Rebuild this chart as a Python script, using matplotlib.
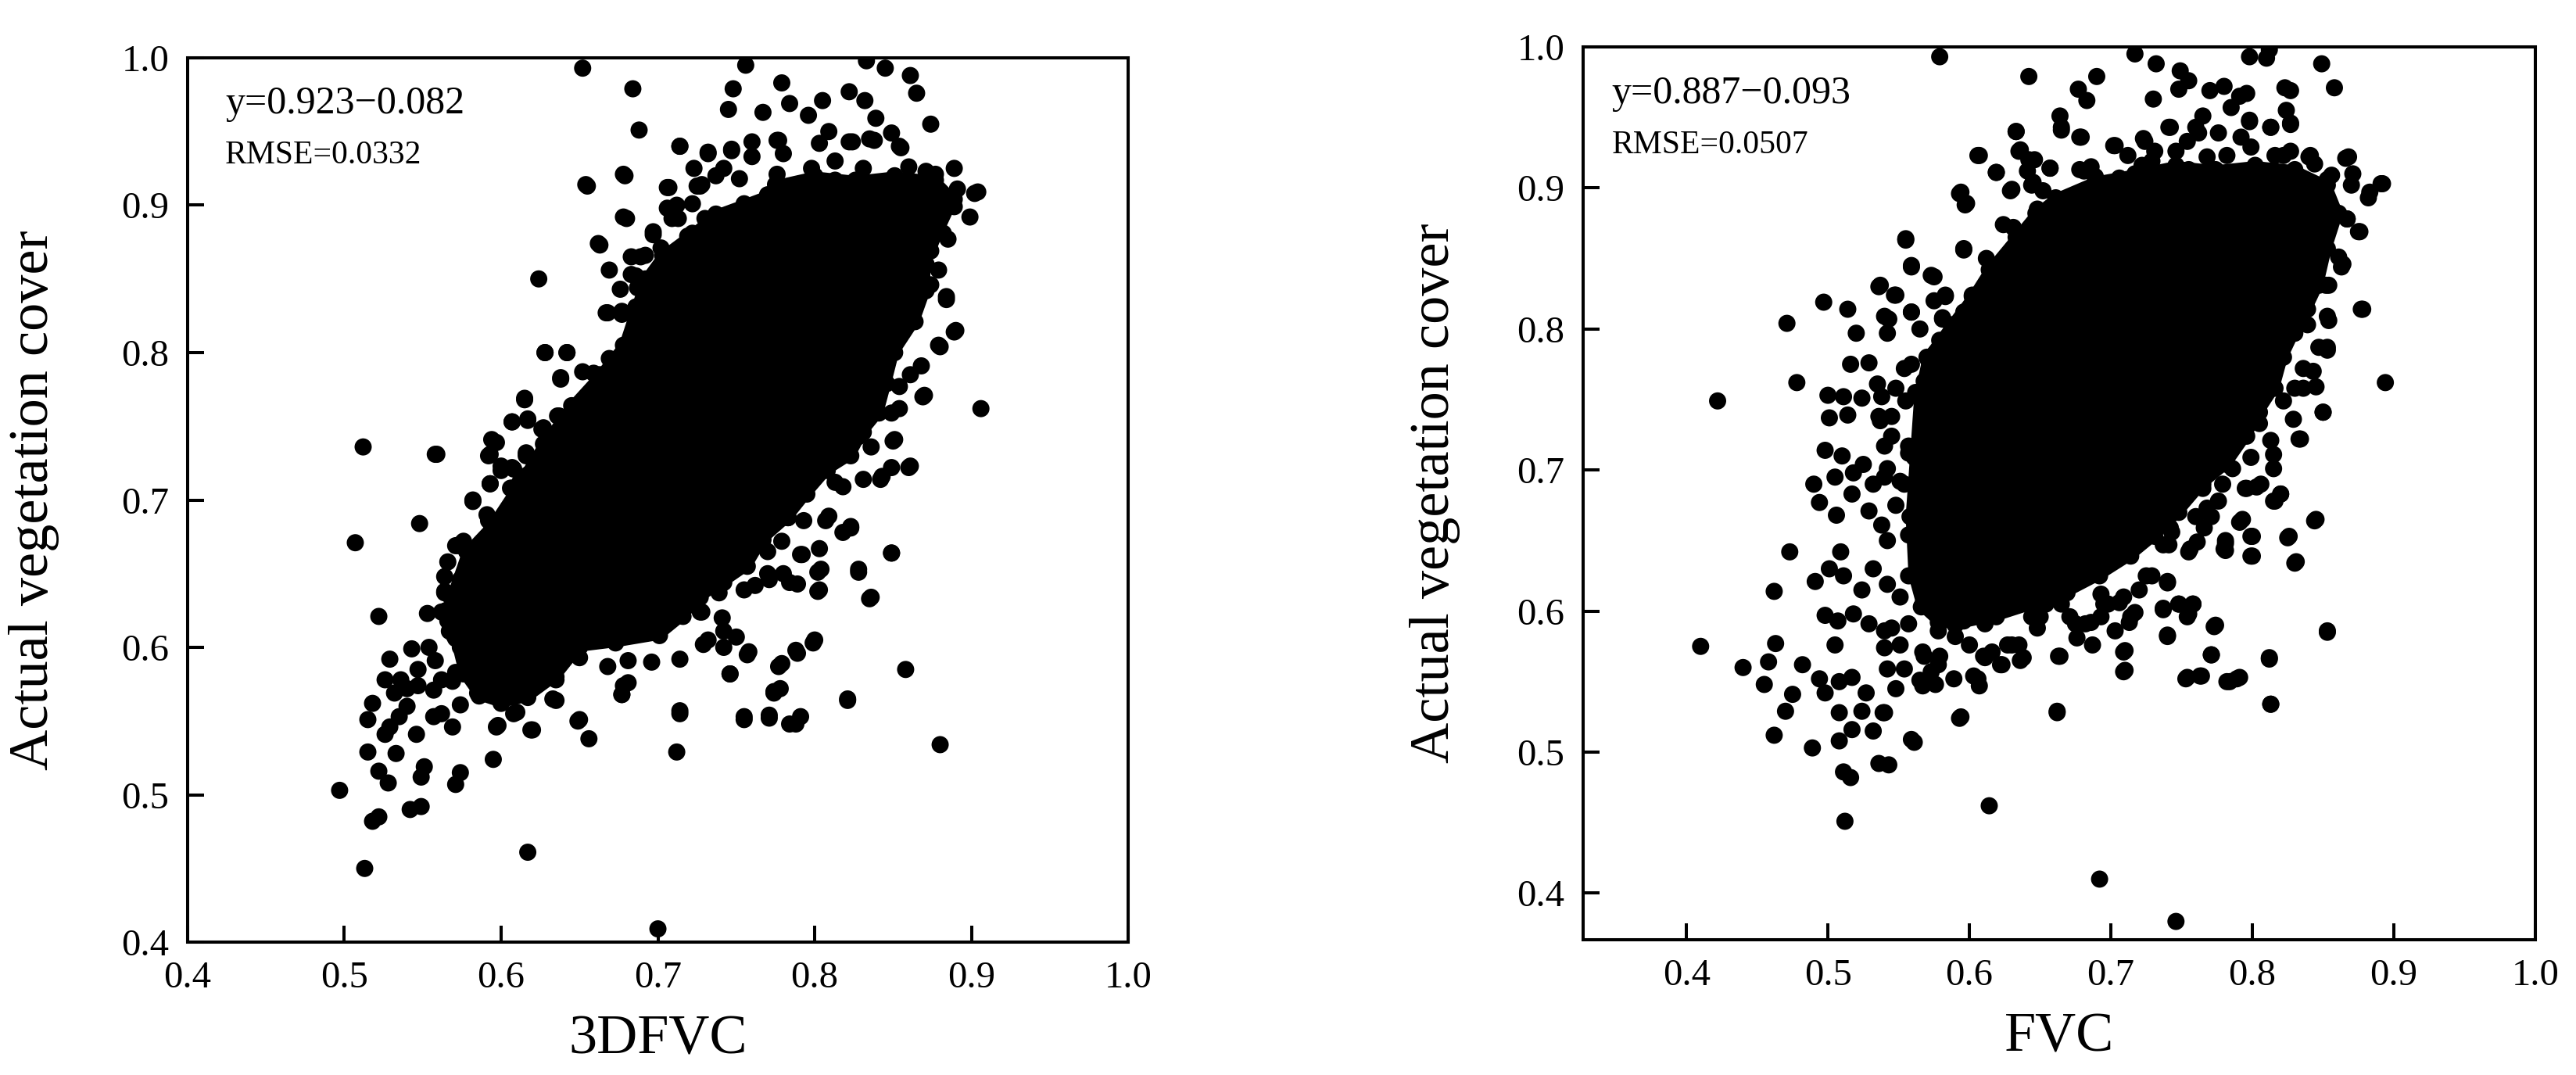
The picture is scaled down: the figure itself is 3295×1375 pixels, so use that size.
import matplotlib
matplotlib.use("Agg")
import matplotlib.pyplot as plt

# ---------------- data ----------------
left_xlabel = "3DFVC"
right_xlabel = "FVC"
ylabel = "Actual vegetation cover"
left_eq = "y=0.923\u22120.082"
left_rmse = "RMSE=0.0332"
right_eq = "y=0.887\u22120.093"
right_rmse = "RMSE=0.0507"
ticks = [0.4, 0.5, 0.6, 0.7, 0.8, 0.9, 1.0]
tick_labels = ["0.4", "0.5", "0.6", "0.7", "0.8", "0.9", "1.0"]
left_xlim = (0.4, 1.0)
left_ylim = (0.4, 1.0)
right_xlim = (0.327, 1.0)
right_ylim = (0.367, 1.0)

# dense (saturated) core of the left cloud, outline in data units
left_core = [
    (0.775, 0.914), (0.800, 0.920), (0.826, 0.917), (0.851, 0.920), (0.877, 0.917),
    (0.889, 0.904), (0.879, 0.881), (0.871, 0.860), (0.871, 0.842), (0.864, 0.821),
    (0.851, 0.800), (0.846, 0.779), (0.841, 0.759), (0.831, 0.746), (0.823, 0.730),
    (0.808, 0.720), (0.795, 0.704), (0.783, 0.688), (0.767, 0.673), (0.757, 0.655),
    (0.742, 0.644), (0.727, 0.634), (0.716, 0.621), (0.701, 0.608), (0.673, 0.603),
    (0.650, 0.600), (0.635, 0.580), (0.617, 0.566), (0.600, 0.562), (0.586, 0.567),
    (0.576, 0.582), (0.570, 0.608), (0.568, 0.634), (0.578, 0.665), (0.594, 0.683),
    (0.612, 0.712), (0.627, 0.738), (0.645, 0.764), (0.663, 0.785), (0.678, 0.805),
    (0.686, 0.831), (0.692, 0.850), (0.703, 0.866), (0.722, 0.881), (0.737, 0.894),
    (0.755, 0.901), (0.770, 0.907),
]

# individual points of the left cloud
left_pts = [
    (0.652, 0.993), (0.684, 0.979), (0.688, 0.951), (0.679, 0.920), (0.655, 0.913),
    (0.680, 0.891), (0.663, 0.873), (0.624, 0.850), (0.668, 0.827), (0.628, 0.800),
    (0.642, 0.800), (0.615, 0.769), (0.638, 0.782), (0.594, 0.741), (0.607, 0.753),
    (0.617, 0.754), (0.627, 0.749), (0.637, 0.757), (0.512, 0.736), (0.558, 0.731),
    (0.593, 0.731), (0.600, 0.723), (0.608, 0.721), (0.616, 0.730), (0.617, 0.717),
    (0.593, 0.711), (0.607, 0.708), (0.582, 0.700), (0.507, 0.671), (0.548, 0.684),
    (0.571, 0.669), (0.574, 0.670), (0.591, 0.690), (0.595, 0.679), (0.564, 0.638),
    (0.553, 0.623), (0.522, 0.621), (0.565, 0.625), (0.554, 0.600), (0.558, 0.591),
    (0.529, 0.592), (0.526, 0.578), (0.536, 0.578), (0.547, 0.574), (0.557, 0.571),
    (0.518, 0.562), (0.515, 0.551), (0.535, 0.553), (0.526, 0.541), (0.546, 0.541),
    (0.533, 0.528), (0.515, 0.529), (0.522, 0.516), (0.528, 0.508), (0.549, 0.512),
    (0.551, 0.519), (0.571, 0.507), (0.574, 0.515), (0.497, 0.503), (0.518, 0.482),
    (0.522, 0.485), (0.542, 0.490), (0.549, 0.492), (0.513, 0.450), (0.617, 0.461),
    (0.700, 0.409), (0.595, 0.524), (0.598, 0.547), (0.619, 0.544), (0.650, 0.551),
    (0.656, 0.538), (0.712, 0.529), (0.714, 0.557), (0.677, 0.568), (0.681, 0.576),
    (0.779, 0.589), (0.788, 0.598), (0.800, 0.605), (0.746, 0.582), (0.758, 0.597),
    (0.755, 0.553), (0.771, 0.554), (0.784, 0.548), (0.791, 0.553), (0.774, 0.569),
    (0.778, 0.572), (0.821, 0.565), (0.858, 0.585), (0.880, 0.534), (0.906, 0.762),
    (0.890, 0.815), (0.880, 0.804), (0.884, 0.836), (0.869, 0.770), (0.861, 0.723),
    (0.849, 0.664), (0.836, 0.634), (0.828, 0.653), (0.823, 0.681), (0.809, 0.689),
    (0.803, 0.667), (0.792, 0.663), (0.804, 0.653), (0.803, 0.639), (0.784, 0.644),
    (0.771, 0.646), (0.742, 0.611), (0.729, 0.602), (0.727, 0.624), (0.843, 0.716),
    (0.851, 0.741), (0.902, 0.908), (0.899, 0.892), (0.891, 0.911), (0.874, 0.955),
    (0.861, 0.988), (0.865, 0.976), (0.833, 0.998), (0.845, 0.993), (0.832, 0.971),
    (0.822, 0.977), (0.805, 0.971), (0.809, 0.950), (0.796, 0.961), (0.784, 0.969),
    (0.779, 0.983), (0.756, 0.995), (0.748, 0.979), (0.745, 0.965), (0.767, 0.963),
    (0.839, 0.959), (0.849, 0.949), (0.855, 0.939), (0.835, 0.945), (0.824, 0.943),
    (0.777, 0.944), (0.760, 0.943), (0.747, 0.937), (0.732, 0.935), (0.714, 0.940),
    (0.723, 0.925), (0.728, 0.914), (0.707, 0.912), (0.712, 0.900), (0.709, 0.891),
    (0.697, 0.880), (0.702, 0.871), (0.689, 0.865), (0.683, 0.853), (0.687, 0.844),
    (0.702, 0.849), (0.677, 0.828), (0.690, 0.821), (0.670, 0.790), (0.659, 0.786),
    (0.871, 0.923), (0.865, 0.905), (0.885, 0.877), (0.879, 0.856),
    (0.566, 0.658), (0.574, 0.646), (0.585, 0.653), (0.578, 0.634), (0.595, 0.620),
    (0.585, 0.592), (0.571, 0.583), (0.585, 0.569), (0.562, 0.555), (0.569, 0.546),
    (0.595, 0.574), (0.609, 0.578), (0.621, 0.574), (0.633, 0.565), (0.635, 0.578),
    (0.608, 0.555), (0.614, 0.569), (0.557, 0.553), (0.540, 0.572), (0.532, 0.569),
    (0.529, 0.546), (0.540, 0.560), (0.562, 0.578), (0.547, 0.585), (0.543, 0.599),
    (0.571, 0.606), (0.581, 0.630), (0.566, 0.618), (0.564, 0.648), (0.576, 0.672),
    (0.585, 0.667), (0.600, 0.658), (0.609, 0.662), (0.604, 0.681), (0.614, 0.695),
    (0.624, 0.704), (0.633, 0.714), (0.643, 0.718), (0.647, 0.737), (0.657, 0.746),
    (0.652, 0.760), (0.662, 0.769),
    (0.678, 0.921), (0.654, 0.914), (0.678, 0.892), (0.662, 0.874), (0.669, 0.856),
    (0.676, 0.843), (0.667, 0.827), (0.677, 0.826), (0.690, 0.821), (0.696, 0.830),
    (0.706, 0.912), (0.725, 0.913), (0.722, 0.901), (0.706, 0.898), (0.713, 0.891),
    (0.730, 0.891), (0.697, 0.882), (0.719, 0.879), (0.683, 0.865), (0.692, 0.866),
    (0.704, 0.865), (0.686, 0.852), (0.696, 0.849), (0.706, 0.848), (0.628, 0.800),
    (0.642, 0.800), (0.638, 0.783), (0.652, 0.787), (0.669, 0.796), (0.615, 0.768),
    (0.607, 0.753), (0.617, 0.755), (0.626, 0.748), (0.636, 0.757), (0.597, 0.739),
    (0.592, 0.730), (0.616, 0.732), (0.628, 0.730), (0.600, 0.720), (0.607, 0.722),
    (0.617, 0.717), (0.593, 0.711), (0.606, 0.708), (0.582, 0.699), (0.592, 0.686),
    (0.605, 0.688), (0.573, 0.669), (0.589, 0.660), (0.564, 0.637), (0.579, 0.645),
    (0.567, 0.611), (0.574, 0.600), (0.584, 0.590), (0.569, 0.577), (0.574, 0.561),
    (0.597, 0.546), (0.610, 0.556), (0.620, 0.544), (0.635, 0.564), (0.649, 0.550),
    (0.678, 0.574), (0.677, 0.568), (0.714, 0.555), (0.746, 0.582), (0.755, 0.551),
    (0.771, 0.552), (0.774, 0.570), (0.777, 0.587), (0.789, 0.596), (0.799, 0.603),
    (0.821, 0.564), (0.788, 0.548), (0.732, 0.605), (0.750, 0.607), (0.757, 0.595),
    (0.742, 0.600), (0.714, 0.592), (0.695, 0.611), (0.696, 0.590), (0.681, 0.591),
    (0.668, 0.587), (0.650, 0.593), (0.655, 0.608), (0.678, 0.608), (0.623, 0.587),
    (0.630, 0.608), (0.589, 0.618), (0.562, 0.624), (0.559, 0.731), (0.728, 0.624),
    (0.741, 0.620), (0.739, 0.637), (0.755, 0.639), (0.762, 0.642), (0.770, 0.650),
    (0.780, 0.650), (0.789, 0.643), (0.802, 0.638), (0.802, 0.651), (0.791, 0.663),
    (0.779, 0.672), (0.770, 0.665), (0.828, 0.651), (0.849, 0.664), (0.835, 0.633),
    (0.793, 0.686), (0.807, 0.686), (0.818, 0.678), (0.823, 0.682), (0.783, 0.688),
    (0.813, 0.712), (0.818, 0.709), (0.831, 0.714), (0.842, 0.714), (0.849, 0.722),
    (0.860, 0.722), (0.850, 0.740), (0.836, 0.736), (0.828, 0.743), (0.849, 0.759),
    (0.854, 0.762), (0.870, 0.771), (0.854, 0.777), (0.868, 0.791), (0.861, 0.785),
    (0.879, 0.805), (0.889, 0.814), (0.884, 0.838), (0.874, 0.846), (0.874, 0.869),
    (0.889, 0.899), (0.882, 0.881), (0.904, 0.909), (0.889, 0.925), (0.877, 0.921),
    (0.864, 0.909), (0.860, 0.926), (0.831, 0.925), (0.813, 0.930), (0.813, 0.917),
    (0.798, 0.925), (0.780, 0.935), (0.776, 0.921), (0.760, 0.933), (0.747, 0.938),
    (0.732, 0.936), (0.714, 0.940), (0.742, 0.925), (0.752, 0.918), (0.737, 0.920),
    (0.727, 0.913), (0.770, 0.907), (0.854, 0.940), (0.838, 0.944), (0.822, 0.943),
    (0.803, 0.942), (0.776, 0.944),
]

# dense (saturated) core of the right cloud, outline in data units
right_core = [
    (0.661, 0.893), (0.689, 0.905), (0.717, 0.910), (0.746, 0.916), (0.774, 0.913),
    (0.802, 0.916), (0.830, 0.913), (0.853, 0.902), (0.861, 0.882), (0.853, 0.857),
    (0.847, 0.831), (0.839, 0.814), (0.830, 0.797), (0.822, 0.780), (0.816, 0.758),
    (0.805, 0.741), (0.796, 0.724), (0.782, 0.704), (0.765, 0.690), (0.748, 0.670),
    (0.731, 0.653), (0.714, 0.639), (0.692, 0.625), (0.669, 0.613), (0.647, 0.605),
    (0.619, 0.596), (0.590, 0.590), (0.578, 0.592), (0.566, 0.603), (0.560, 0.625),
    (0.558, 0.667), (0.561, 0.709), (0.564, 0.752), (0.570, 0.780), (0.587, 0.803),
    (0.602, 0.823), (0.614, 0.842), (0.633, 0.865), (0.647, 0.882),
]

# individual points of the right cloud
right_pts = [
    (0.579, 0.993), (0.642, 0.979), (0.717, 0.995), (0.732, 0.988), (0.749, 0.983),
    (0.755, 0.976), (0.798, 0.993), (0.810, 0.992), (0.812, 0.998), (0.849, 0.988),
    (0.858, 0.971), (0.677, 0.970), (0.683, 0.962), (0.690, 0.979), (0.730, 0.963),
    (0.748, 0.970), (0.770, 0.969), (0.780, 0.972), (0.791, 0.965), (0.785, 0.957),
    (0.796, 0.967), (0.823, 0.971), (0.827, 0.969), (0.824, 0.955), (0.827, 0.946),
    (0.813, 0.943), (0.798, 0.948), (0.765, 0.951), (0.760, 0.943), (0.742, 0.943),
    (0.754, 0.933), (0.724, 0.933), (0.702, 0.930), (0.664, 0.951), (0.665, 0.941),
    (0.679, 0.936), (0.633, 0.940), (0.636, 0.927), (0.642, 0.920), (0.607, 0.923),
    (0.619, 0.911), (0.645, 0.904), (0.657, 0.914), (0.629, 0.898), (0.594, 0.897),
    (0.598, 0.889), (0.596, 0.856), (0.555, 0.863), (0.559, 0.845), (0.575, 0.837),
    (0.583, 0.823), (0.536, 0.830), (0.548, 0.824), (0.497, 0.819), (0.514, 0.814),
    (0.471, 0.804), (0.520, 0.797), (0.543, 0.807), (0.559, 0.812), (0.581, 0.808),
    (0.478, 0.762), (0.422, 0.749), (0.500, 0.753), (0.501, 0.737), (0.511, 0.752),
    (0.514, 0.739), (0.516, 0.775), (0.529, 0.776), (0.524, 0.751), (0.535, 0.761),
    (0.536, 0.738), (0.498, 0.714), (0.510, 0.710), (0.505, 0.695), (0.490, 0.690),
    (0.494, 0.677), (0.506, 0.668), (0.517, 0.683), (0.518, 0.698), (0.525, 0.704),
    (0.532, 0.690), (0.540, 0.717), (0.529, 0.671), (0.473, 0.642), (0.491, 0.621),
    (0.501, 0.630), (0.509, 0.642), (0.511, 0.625), (0.462, 0.614), (0.498, 0.597),
    (0.507, 0.593), (0.505, 0.576), (0.518, 0.598), (0.524, 0.615), (0.532, 0.630),
    (0.529, 0.591), (0.540, 0.586), (0.410, 0.575), (0.463, 0.577), (0.440, 0.560),
    (0.458, 0.564), (0.455, 0.548), (0.482, 0.562), (0.494, 0.552), (0.508, 0.550),
    (0.498, 0.542), (0.475, 0.541), (0.470, 0.529), (0.517, 0.553), (0.527, 0.542),
    (0.524, 0.529), (0.539, 0.528), (0.532, 0.515), (0.517, 0.516), (0.508, 0.528),
    (0.462, 0.512), (0.489, 0.503), (0.508, 0.508), (0.561, 0.507), (0.536, 0.492),
    (0.543, 0.491), (0.511, 0.486), (0.516, 0.482), (0.512, 0.451), (0.594, 0.525),
    (0.614, 0.462), (0.662, 0.529), (0.664, 0.568), (0.692, 0.410), (0.746, 0.380),
    (0.710, 0.558), (0.710, 0.572), (0.754, 0.553), (0.763, 0.554), (0.771, 0.569),
    (0.784, 0.550), (0.791, 0.553), (0.812, 0.567), (0.813, 0.534), (0.774, 0.590),
    (0.740, 0.583), (0.740, 0.621), (0.737, 0.602), (0.748, 0.605), (0.758, 0.605),
    (0.755, 0.598), (0.853, 0.586), (0.831, 0.635), (0.825, 0.652), (0.845, 0.665),
    (0.834, 0.722), (0.815, 0.701), (0.820, 0.683), (0.815, 0.678), (0.806, 0.690),
    (0.795, 0.687), (0.800, 0.653), (0.800, 0.639), (0.781, 0.648), (0.780, 0.644),
    (0.793, 0.665), (0.768, 0.673), (0.766, 0.659), (0.761, 0.649), (0.756, 0.644),
    (0.742, 0.659), (0.741, 0.647), (0.725, 0.625), (0.850, 0.741), (0.845, 0.759),
    (0.853, 0.785), (0.854, 0.806), (0.878, 0.814), (0.894, 0.762), (0.852, 0.831),
    (0.864, 0.846), (0.876, 0.869), (0.867, 0.878), (0.870, 0.902), (0.866, 0.921),
    (0.883, 0.897), (0.891, 0.903), (0.856, 0.909), (0.844, 0.917), (0.841, 0.923),
    (0.822, 0.923), (0.815, 0.912),
    (0.633, 0.940), (0.665, 0.943), (0.678, 0.936), (0.703, 0.930), (0.723, 0.935),
    (0.741, 0.943), (0.762, 0.939), (0.776, 0.939), (0.798, 0.947), (0.813, 0.943),
    (0.827, 0.945), (0.792, 0.936), (0.799, 0.929), (0.606, 0.923), (0.635, 0.926),
    (0.646, 0.920), (0.657, 0.914), (0.619, 0.911), (0.641, 0.912), (0.678, 0.913),
    (0.686, 0.915), (0.706, 0.907), (0.712, 0.923), (0.729, 0.919), (0.746, 0.926),
    (0.755, 0.913), (0.768, 0.922), (0.782, 0.923), (0.816, 0.923), (0.827, 0.926),
    (0.840, 0.922), (0.853, 0.906), (0.868, 0.922), (0.871, 0.910), (0.882, 0.893),
    (0.892, 0.903), (0.867, 0.878), (0.875, 0.869), (0.861, 0.851), (0.863, 0.844),
    (0.854, 0.831), (0.877, 0.814), (0.853, 0.809), (0.839, 0.803), (0.847, 0.787),
    (0.853, 0.787), (0.836, 0.772), (0.843, 0.770), (0.836, 0.758), (0.830, 0.758),
    (0.822, 0.749), (0.850, 0.741), (0.829, 0.736), (0.833, 0.722), (0.813, 0.721),
    (0.815, 0.711), (0.805, 0.733), (0.799, 0.709), (0.786, 0.701), (0.779, 0.690),
    (0.765, 0.687), (0.796, 0.687), (0.803, 0.688), (0.816, 0.678), (0.820, 0.683),
    (0.776, 0.678), (0.760, 0.667), (0.771, 0.667), (0.791, 0.663), (0.826, 0.653),
    (0.844, 0.664), (0.799, 0.653), (0.799, 0.639), (0.781, 0.650), (0.781, 0.643),
    (0.755, 0.642), (0.743, 0.656), (0.737, 0.647), (0.830, 0.634), (0.853, 0.585),
    (0.812, 0.566), (0.813, 0.534), (0.771, 0.569), (0.773, 0.589), (0.753, 0.552),
    (0.764, 0.554), (0.782, 0.550), (0.789, 0.552), (0.758, 0.605), (0.754, 0.596),
    (0.740, 0.582), (0.737, 0.601), (0.748, 0.605), (0.729, 0.625), (0.740, 0.620),
    (0.709, 0.571), (0.709, 0.557), (0.717, 0.599), (0.713, 0.592), (0.706, 0.606),
    (0.695, 0.605), (0.693, 0.612), (0.686, 0.592), (0.675, 0.591), (0.663, 0.568),
    (0.662, 0.528), (0.648, 0.588), (0.650, 0.596), (0.636, 0.565), (0.630, 0.576),
    (0.623, 0.562), (0.610, 0.568), (0.607, 0.547), (0.603, 0.554), (0.593, 0.524),
    (0.576, 0.548), (0.565, 0.551), (0.548, 0.545), (0.542, 0.559), (0.554, 0.559),
    (0.540, 0.574), (0.568, 0.568), (0.579, 0.568), (0.559, 0.509), (0.540, 0.528),
    (0.545, 0.588), (0.590, 0.582), (0.596, 0.593), (0.542, 0.619), (0.542, 0.650),
    (0.538, 0.661), (0.548, 0.675), (0.540, 0.695), (0.554, 0.690), (0.542, 0.701),
    (0.545, 0.724), (0.557, 0.712), (0.537, 0.735), (0.545, 0.738), (0.538, 0.752),
    (0.548, 0.758), (0.554, 0.772), (0.559, 0.775), (0.562, 0.755), (0.568, 0.763),
    (0.555, 0.749), (0.571, 0.778), (0.576, 0.783), (0.579, 0.792), (0.565, 0.800),
    (0.542, 0.797), (0.540, 0.809), (0.559, 0.812), (0.581, 0.807), (0.596, 0.812),
    (0.610, 0.812), (0.602, 0.824), (0.575, 0.820), (0.583, 0.824), (0.547, 0.824),
    (0.537, 0.831), (0.573, 0.838), (0.559, 0.844), (0.555, 0.864), (0.596, 0.857),
    (0.612, 0.850), (0.617, 0.841), (0.619, 0.827), (0.628, 0.817), (0.631, 0.835),
    (0.624, 0.874), (0.631, 0.872), (0.593, 0.896), (0.597, 0.888), (0.630, 0.899),
    (0.644, 0.902), (0.652, 0.898), (0.648, 0.885), (0.657, 0.875), (0.675, 0.891),
    (0.681, 0.912), (0.689, 0.908), (0.692, 0.901), (0.731, 0.926), (0.722, 0.916),
    (0.568, 0.732), (0.557, 0.717), (0.551, 0.692), (0.567, 0.669), (0.557, 0.654),
    (0.567, 0.639), (0.557, 0.625), (0.551, 0.610), (0.567, 0.605), (0.557, 0.591),
    (0.551, 0.576), (0.567, 0.571), (0.578, 0.586), (0.589, 0.596), (0.578, 0.562),
    (0.589, 0.552), (0.567, 0.547), (0.573, 0.557), (0.600, 0.576), (0.611, 0.591),
    (0.622, 0.605), (0.611, 0.567), (0.606, 0.552), (0.616, 0.571), (0.627, 0.576),
    (0.638, 0.567), (0.622, 0.562), (0.644, 0.596), (0.654, 0.605), (0.635, 0.576),
    (0.649, 0.601), (0.665, 0.605), (0.671, 0.596), (0.682, 0.591), (0.693, 0.596),
    (0.698, 0.605), (0.709, 0.610), (0.720, 0.615), (0.714, 0.596), (0.703, 0.586),
    (0.687, 0.576), (0.676, 0.581),
]

# ---------------- drawing ----------------
plt.rcParams["font.family"] = ["Liberation Serif", "DejaVu Serif"]

fig = plt.figure(figsize=(32.95, 13.75), dpi=100)
ax1 = fig.add_axes([0.0728, 0.1236, 0.3652, 0.8226])
ax2 = fig.add_axes([0.6146, 0.1258, 0.3696, 0.8306])

MS = 250
panels = [
    (ax1, left_core, left_pts, left_xlim, left_ylim, left_xlabel, left_eq, left_rmse, -0.136, 0.040),
    (ax2, right_core, right_pts, right_xlim, right_ylim, right_xlabel, right_eq, right_rmse, -0.129, 0.030),
]
for ax, core, pts, xl, yl, xlab, eq, rm, ylab_x, tx in panels:
    cx = [p[0] for p in core]
    cy = [p[1] for p in core]
    ax.fill(cx, cy, color="black", lw=8, ec="black", joinstyle="round", zorder=2)
    ax.scatter(cx, cy, s=MS, c="black", edgecolors="none", zorder=3)
    px = [p[0] for p in pts]
    py = [p[1] for p in pts]
    ax.scatter(px, py, s=MS, c="black", edgecolors="none", zorder=3, clip_on=True)
    ax.set_xlim(*xl)
    ax.set_ylim(*yl)
    ax.set_xticks(ticks)
    ax.set_xticklabels(tick_labels)
    ax.set_yticks(ticks)
    ax.set_yticklabels(tick_labels)
    ax.tick_params(direction="in", length=15, width=2.9, labelsize=35, pad=17,
                   top=False, right=False)
    for s in ax.spines.values():
        s.set_linewidth(2.9)
    ax.set_xlabel(xlab, fontsize=52, labelpad=18)
    ax.set_ylabel(ylabel, fontsize=52)
    ax.yaxis.set_label_coords(ylab_x, 0.5)
    ax.text(tx, 0.948, eq, transform=ax.transAxes, fontsize=36, va="center", ha="left", zorder=5)
    ax.text(tx, 0.890, rm, transform=ax.transAxes, fontsize=30, va="center", ha="left", zorder=5)

fig.savefig("out.png", dpi=100)
